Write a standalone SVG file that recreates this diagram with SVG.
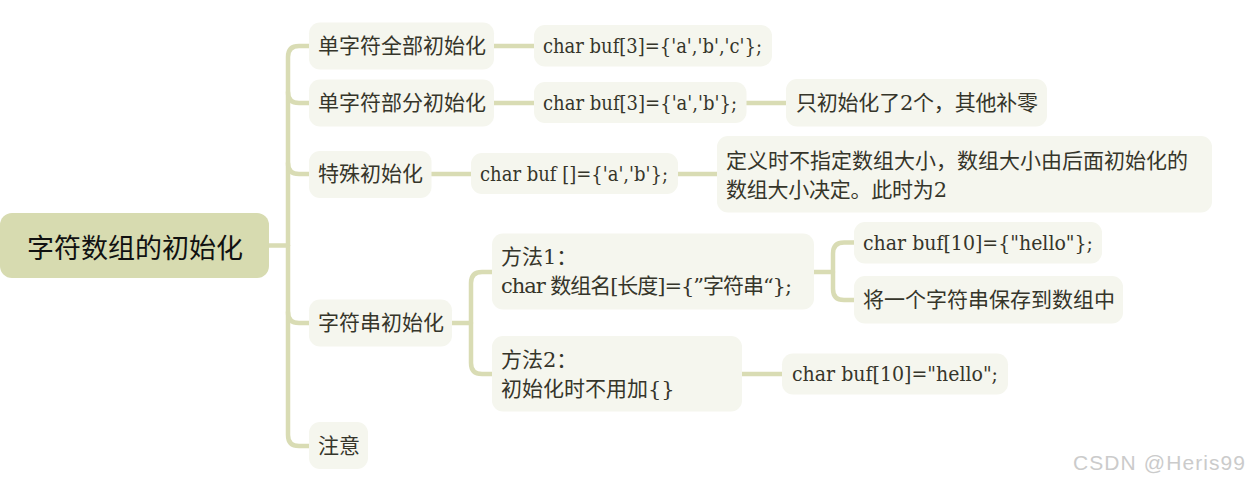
<svg xmlns="http://www.w3.org/2000/svg" width="1247" height="481" viewBox="0 0 1247 481">
<style>
.node{fill:#f5f6ee}
.root{fill:#d7dbb0}
.t{font-family:"DejaVu Serif","Noto Sans CJK SC",serif;font-size:21px;fill:#35352a;dominant-baseline:central}
.code{font-family:"DejaVu Serif","Noto Sans CJK SC",serif;font-size:21px;fill:#35352a;dominant-baseline:central}
.rt{font-family:"Noto Sans CJK SC",sans-serif;font-size:27px;fill:#111;dominant-baseline:central}
.ln{fill:none;stroke:#d9dcb4;stroke-width:4.5;stroke-linecap:round}
.wm{font-family:"Liberation Sans",Arial,sans-serif;font-size:21px;fill:#cbcbcb}
</style>
<rect width="1247" height="481" fill="#ffffff"/>
<g id="connectors">
<path class="ln" d="M269,245.5 H288"/>
<path class="ln" d="M309,46 H299 Q288,46 288,57 V435 Q288,446 299,446 H309"/>
<path class="ln" d="M288,92 Q288,103 299,103 H309"/>
<path class="ln" d="M288,163 Q288,174 299,174 H309"/>
<path class="ln" d="M288,312 Q288,323 299,323 H309"/>
<path class="ln" d="M494,46 H534"/>
<path class="ln" d="M746,103 H786"/>
<path class="ln" d="M494,103 H534"/>
<path class="ln" d="M431,174 H471"/>
<path class="ln" d="M678,174 H717"/>
<path class="ln" d="M452,323 H471"/>
<path class="ln" d="M492,272 H482 Q471,272 471,283 V363 Q471,374 482,374 H492"/>
<path class="ln" d="M742,374 H782"/>
<path class="ln" d="M814,272 H833"/>
<path class="ln" d="M854,242.5 H844 Q833,242.5 833,253.5 V289 Q833,300 844,300 H854"/>
</g>
<g id="root">
<rect class="root" x="0" y="213" width="269" height="65" rx="12"/>
<text class="rt" x="135" y="246" text-anchor="middle">字符数组的初始化</text>
</g>
<g id="n1">
<rect class="node" x="309" y="22.5" width="185" height="47" rx="11"/>
<text class="t" x="318" y="46">单字符全部初始化</text>
</g>
<g id="n2">
<rect class="node" x="309" y="79.5" width="185" height="47" rx="11"/>
<text class="t" x="318" y="103">单字符部分初始化</text>
</g>
<g id="n3">
<rect class="node" x="309" y="151" width="122.5" height="47" rx="11"/>
<text class="t" x="318" y="174">特殊初始化</text>
</g>
<g id="n4">
<rect class="node" x="309" y="299.5" width="143" height="47" rx="11"/>
<text class="t" x="318" y="323">字符串初始化</text>
</g>
<g id="n5">
<rect class="node" x="309" y="422" width="59" height="47" rx="11"/>
<text class="t" x="318" y="446">注意</text>
</g>
<g id="n1a">
<rect class="node" x="534" y="25" width="238" height="41.5" rx="11"/>
<text class="code" x="543" y="46" textLength="219" lengthAdjust="spacingAndGlyphs">char buf[3]={'a','b','c'};</text>
</g>
<g id="n2a">
<rect class="node" x="534" y="82" width="212.5" height="41" rx="11"/>
<text class="code" x="543" y="103" textLength="194" lengthAdjust="spacingAndGlyphs">char buf[3]={'a','b'};</text>
</g>
<g id="n2b">
<rect class="node" x="786" y="79" width="261" height="47.5" rx="11"/>
<text class="t" x="796" y="103" textLength="242">只初始化了2个，其他补零</text>
</g>
<g id="n3a">
<rect class="node" x="471" y="153" width="207" height="41" rx="11"/>
<text class="code" x="480" y="174" textLength="188" lengthAdjust="spacingAndGlyphs">char buf []={'a','b'};</text>
</g>
<g id="n3b">
<rect class="node" x="717" y="136" width="495" height="76.5" rx="11"/>
<text class="t" x="726" y="160.5" textLength="462">定义时不指定数组大小，数组大小由后面初始化的</text>
<text class="t" x="726" y="189.5" textLength="221">数组大小决定。此时为2</text>
</g>
<g id="n4a">
<rect class="node" x="492" y="233.5" width="322" height="76" rx="11"/>
<text class="t" x="501" y="256.5">方法1：</text>
<text class="t" x="501" y="286" textLength="291">char 数组名[长度]={”字符串“};</text>
</g>
<g id="n4b">
<rect class="node" x="492" y="336" width="250" height="75.5" rx="11"/>
<text class="t" x="501" y="359.5">方法2：</text>
<text class="t" x="501" y="389">初始化时不用加{}</text>
</g>
<g id="n4a1">
<rect class="node" x="854" y="222" width="248" height="41.5" rx="11"/>
<text class="code" x="863" y="242.5" textLength="230" lengthAdjust="spacingAndGlyphs">char  buf[10]={"hello"};</text>
</g>
<g id="n4a2">
<rect class="node" x="854" y="276" width="269" height="47.5" rx="11"/>
<text class="t" x="863" y="300">将一个字符串保存到数组中</text>
</g>
<g id="n4b1">
<rect class="node" x="782" y="353.5" width="226" height="41" rx="11"/>
<text class="code" x="792" y="374" textLength="206" lengthAdjust="spacingAndGlyphs">char buf[10]="hello";</text>
</g>
<text class="wm" x="1073" y="470" textLength="172">CSDN @Heris99</text>
</svg>
